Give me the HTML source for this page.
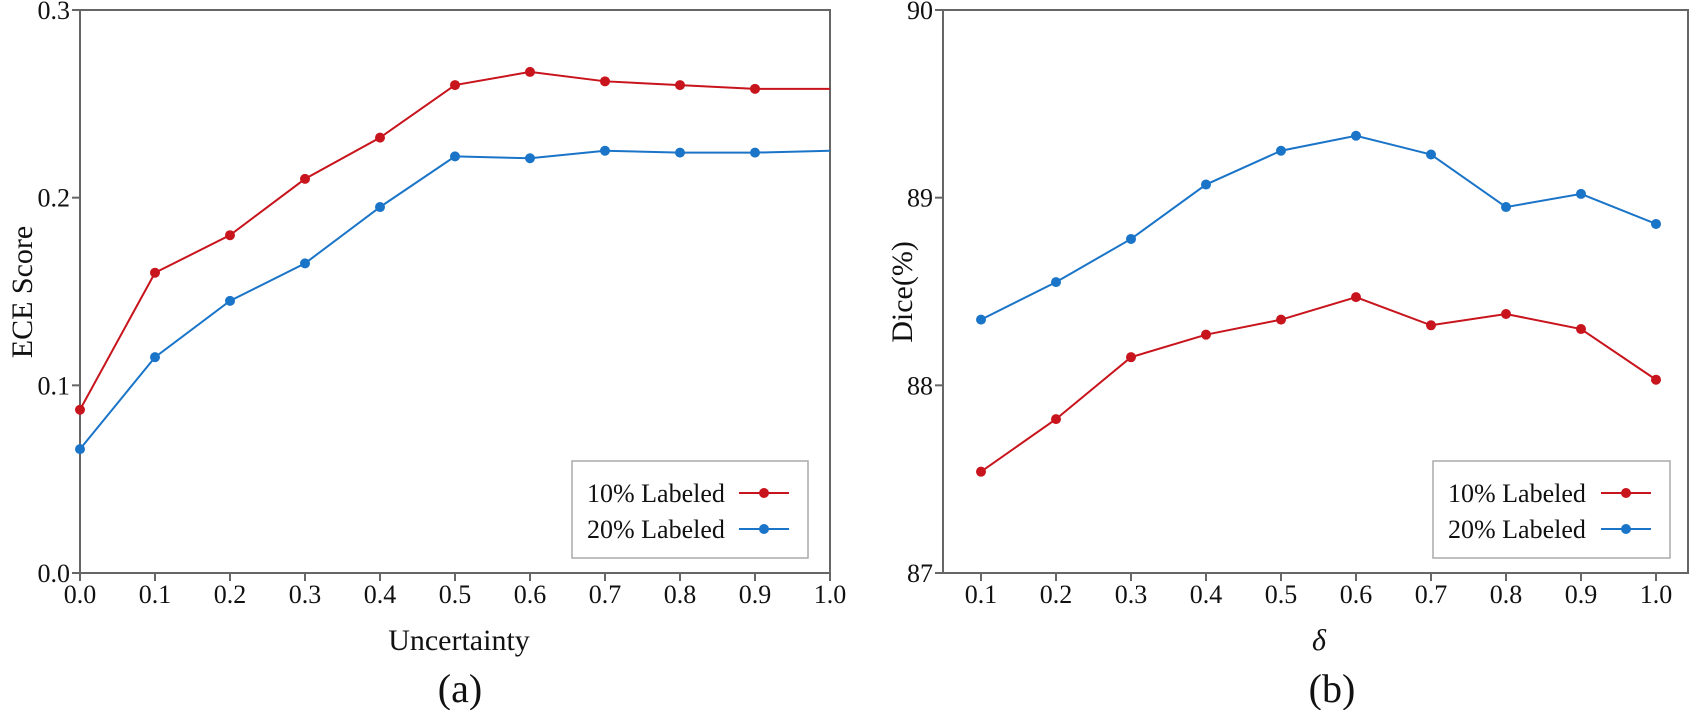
<!DOCTYPE html>
<html><head><meta charset="utf-8"><style>
html,body{margin:0;padding:0;background:#fff;}
svg{display:block;font-family:"Liberation Serif",serif;}
</style></head><body>
<svg id="s" width="1694" height="710" xmlns="http://www.w3.org/2000/svg">
<g fill="#111" font-size="25">
<text x="459" y="650" text-anchor="middle" font-size="30">Uncertainty</text>
<text x="460" y="702" text-anchor="middle" font-size="40">(a)</text>
<text x="1319" y="650" text-anchor="middle" font-size="30" font-style="italic">δ</text>
<text x="1332" y="702" text-anchor="middle" font-size="40">(b)</text>
<text transform="translate(32,292) rotate(-90)" text-anchor="middle" font-size="30">ECE  Score</text>
<text transform="translate(912,292) rotate(-90)" text-anchor="middle" font-size="30">Dice(%)</text>
</g>
</svg>
<script>
(function(){
const s=document.getElementById('s');const NS='http://www.w3.org/2000/svg';
function el(t,a,txt){const e=document.createElementNS(NS,t);for(const k in a)e.setAttribute(k,a[k]);if(txt!=null)e.textContent=txt;s.appendChild(e);return e;}
const T0=10,bot=573,H=bot-T0;
const L0=80,L1=830,R0=943,R1=1688;
function frame(x0,x1){el('rect',{x:x0,y:T0,width:x1-x0,height:H,fill:'none',stroke:'#666','stroke-width':2});}
frame(L0,L1);frame(R0,R1);
[0,0.1,0.2,0.3].forEach(v=>{const y=bot-v/0.3*H;el('line',{x1:L0-8,x2:L0,y1:y,y2:y,stroke:'#666','stroke-width':2});el('text',{x:L0-10,y:y+9,'text-anchor':'end','font-size':26,fill:'#111'},v.toFixed(1));});
for(let i=0;i<=10;i++){const x=L0+i*75;el('line',{x1:x,x2:x,y1:bot,y2:bot+8,stroke:'#666','stroke-width':2});el('text',{x:x,y:bot+30,'text-anchor':'middle','font-size':26,fill:'#111'},(i/10).toFixed(1));}
[87,88,89,90].forEach(v=>{const y=bot-(v-87)/3*H;el('line',{x1:R0-8,x2:R0,y1:y,y2:y,stroke:'#666','stroke-width':2});el('text',{x:R0-10,y:y+9,'text-anchor':'end','font-size':26,fill:'#111'},String(v));});
for(let i=1;i<=10;i++){const x=981+(i-1)*75;el('line',{x1:x,x2:x,y1:bot,y2:bot+8,stroke:'#666','stroke-width':2});el('text',{x:x,y:bot+30,'text-anchor':'middle','font-size':26,fill:'#111'},(i/10).toFixed(1));}
const RED='#c8141c',BLUE='#1a74c8';
function series(xs,ys,c,nmark){el('polyline',{points:xs.map((x,i)=>x+','+ys[i]).join(' '),fill:'none',stroke:c,'stroke-width':2});xs.forEach((x,i)=>{if(i<nmark)el('circle',{cx:x,cy:ys[i],r:5,fill:c});});}
const lx=[...Array(11)].map((_,i)=>L0+i*75);
const ly=v=>bot-v/0.3*H;
series(lx,[0.087,0.16,0.18,0.21,0.232,0.26,0.267,0.262,0.26,0.258,0.258].map(ly),RED,10);
series(lx,[0.066,0.115,0.145,0.165,0.195,0.222,0.221,0.225,0.224,0.224,0.225].map(ly),BLUE,10);
const rx=[...Array(10)].map((_,i)=>981+i*75);
const ry=v=>bot-(v-87)/3*H;
series(rx,[87.54,87.82,88.15,88.27,88.35,88.47,88.32,88.38,88.30,88.03].map(ry),RED,10);
series(rx,[88.35,88.55,88.78,89.07,89.25,89.33,89.23,88.95,89.02,88.86].map(ry),BLUE,10);
function legend(x0,x1,y0,y1){el('rect',{x:x0,y:y0,width:x1-x0,height:y1-y0,fill:'#fff',stroke:'#aaa','stroke-width':1.5});
[[RED,'10% Labeled',502],[BLUE,'20% Labeled',538]].forEach(([c,t,b])=>{el('text',{x:x0+15,y:b,'font-size':26,fill:'#111'},t);el('line',{x1:x1-69,x2:x1-19,y1:b-9,y2:b-9,stroke:c,'stroke-width':2});el('circle',{cx:x1-44,cy:b-9,r:5,fill:c});});}
legend(572,808,461,558);legend(1433,1670,461,558);
})();
</script>
</body></html>
